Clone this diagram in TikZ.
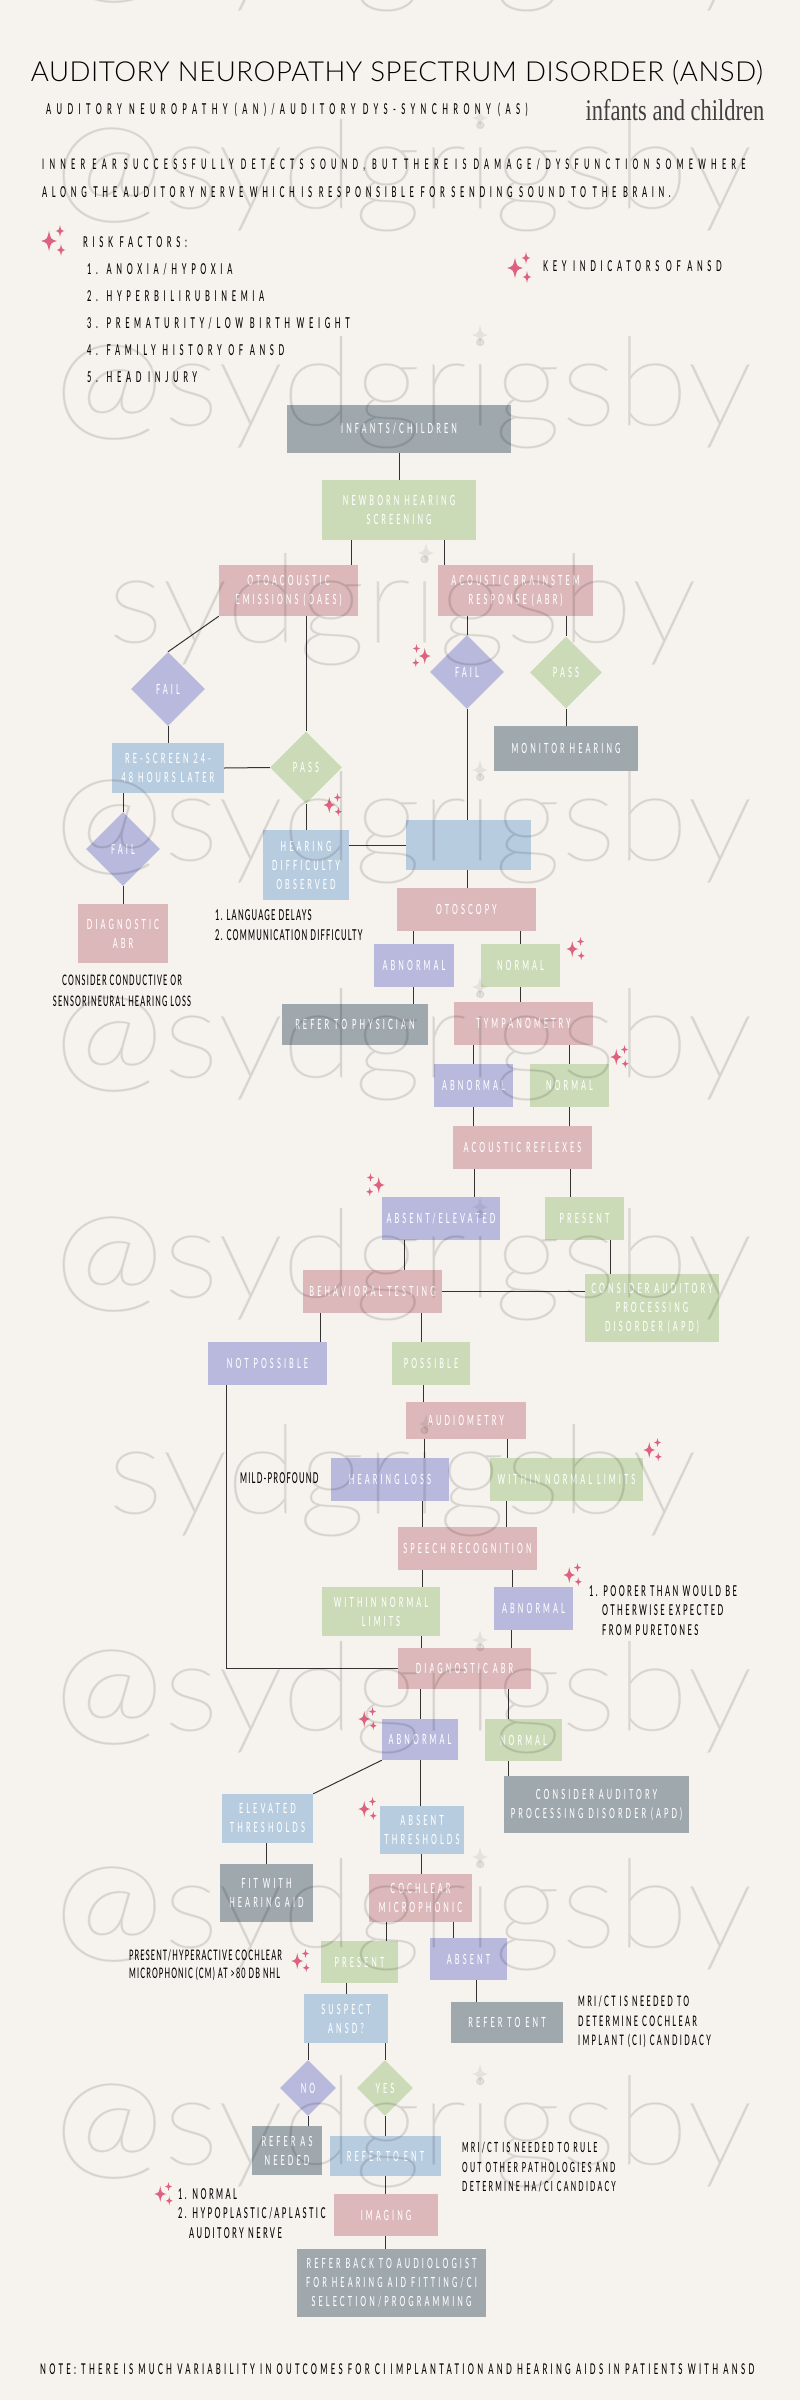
\documentclass[tikz,border=0pt]{standalone}
\usepackage{fontspec}
\usetikzlibrary{shapes.geometric}
\setmainfont{Lato}
\newfontfamily\headfont[LetterSpace=2]{Lato Light}
\newfontfamily\markfont[FakeStretch=1.08,FakeBold=1]{Lato Thin}
\newfontfamily\inkfont[FakeStretch=.75,Style=Italic]{Liberation Serif}
\newfontfamily\broadfont[FakeStretch=.5,LetterSpace=36]{Lato Medium}
\newfontfamily\widefont[FakeStretch=.5,LetterSpace=31]{Lato Medium}
\newfontfamily\boxfont[FakeStretch=.52,LetterSpace=22]{Lato Medium}
\newfontfamily\openfont[FakeStretch=.5,LetterSpace=16]{Lato Medium}
\newfontfamily\notefont[FakeStretch=.5,LetterSpace=8]{Lato Medium}
\definecolor{paper}{HTML}{F6F3EE}
\definecolor{slate}{HTML}{9FA8AD}
\definecolor{sage}{HTML}{CBDBB7}
\definecolor{rose}{HTML}{DDB8BA}
\definecolor{lilac}{HTML}{B8B9DD}
\definecolor{sky}{HTML}{B8CCE0}
\definecolor{spark}{HTML}{DE6280}
\newcommand{\sparkpoint}[4][spark]{%
  \fill[#1,shift={(#2,#3)},scale=#4] (0,-1.3) .. controls (.22,-.22) .. (1,0)
    .. controls (.22,.22) .. (0,1.3) .. controls (-.22,.22) .. (-1,0)
    .. controls (-.22,-.22) .. (0,-1.3) -- cycle;}
\begin{document}
\begin{tikzpicture}[
            x = 1pt, y = -1pt,
            line/.style={line width = 1pt, black!80},
            box/.style 2 args={rectangle, inner sep=0pt, minimum width=#1, minimum height=#2, align=center, text=white, font=\boxfont\fontsize{14}{19}\selectfont},
            diam/.style={diamond, aspect=1, inner sep=0pt, minimum size=#1, align=center, text=white, font=\boxfont\fontsize{14}{19}\selectfont},
            plain/.style={inner sep=0pt, anchor=west, align=left, text=black, font=\widefont\fontsize{15}{27}\selectfont},
            note/.style={inner sep=0pt, anchor=west, align=left, text=black, font=\notefont\fontsize{15}{19.5}\selectfont},
            open/.style={inner sep=0pt, anchor=west, align=left, text=black, font=\openfont\fontsize{15}{19.5}\selectfont},
            brand/.style={inner sep=0pt, anchor=base, text=black, opacity=.065, font=\markfont\fontsize{123}{123}\selectfont},
            sparkle/.pic={
                \sparkpoint{-5}{0}{8}
                \sparkpoint{6}{-10}{4.5}
                \sparkpoint{7}{9}{4.5}
            },
            ]

        \useasboundingbox (0,0) rectangle (800,2400);
        \fill[paper] (0,0) rectangle (800,2400);

        \node[inner sep=0pt, font=\headfont\fontsize{27.6}{28}\selectfont] (title) at (397,73) {AUDITORY NEUROPATHY SPECTRUM DISORDER (ANSD)};
        \node[plain, font=\broadfont\fontsize{15}{27}\selectfont] (subtitle) at (46,110) {AUDITORY NEUROPATHY (AN)/AUDITORY DYS-SYNCHRONY (AS)};
        \node[inner sep=0pt, text=black!75, font=\inkfont\fontsize{30}{30}\selectfont] (who) at (675,110) {infants and children};
        \node[plain, font=\broadfont\fontsize{14.6}{27}\selectfont] (intro) at (42,165) {INNER EAR SUCCESSFULLY DETECTS SOUND, BUT THERE IS DAMAGE/DYSFUNCTION SOMEWHERE};
        \node[plain] (introb) at (42,192) {ALONG THE AUDITORY NERVE WHICH IS RESPONSIBLE FOR SENDING SOUND TO THE BRAIN.};
        \node[plain] (risk) at (83,242) {RISK FACTORS:};
        \node[plain] (risklist) at (87,323) {1. ANOXIA/HYPOXIA\\2. HYPERBILIRUBINEMIA\\3. PREMATURITY/LOW BIRTH WEIGHT\\4. FAMILY HISTORY OF ANSD\\5. HEAD INJURY};
        \node[plain] (key) at (543,266) {KEY INDICATORS OF ANSD};

        \node[box={224}{48}, fill=slate] (infants) at (399,429) {INFANTS/CHILDREN};
        \node[box={154}{60}, fill=sage] (newborn) at (399,510) {NEWBORN HEARING\\SCREENING};
        \node[box={139}{51}, fill=rose] (oae) at (288.5,590.5) {OTOACOUSTIC\\EMISSIONS (OAES)};
        \node[box={155}{51}, fill=rose] (abr) at (515.5,590.5) {ACOUSTIC BRAINSTEM\\RESPONSE (ABR)};
        \node[diam=74, fill=lilac] (faila) at (168,689) {FAIL};
        \node[diam=72, fill=sage] (passa) at (306,767.5) {PASS};
        \node[diam=74, fill=lilac] (failb) at (467,672) {FAIL};
        \node[diam=72, fill=sage] (passb) at (566,672.5) {PASS};
        \node[box={112}{50}, fill=sky] (rescreen) at (168,768) {RE-SCREEN 24-\\48 HOURS LATER};
        \node[box={144}{45}, fill=slate] (monitor) at (566,748.5) {MONITOR HEARING};
        \node[diam=74, fill=lilac] (failc) at (123,849) {FAIL};
        \node[box={86}{70}, fill=sky] (difficulty) at (306,865) {HEARING\\DIFFICULTY\\OBSERVED};
        \node[box={125}{50}, fill=sky] (blank) at (468.5,845) {};
        \node[box={90}{59}, fill=rose] (diagnostic) at (123,933.5) {DIAGNOSTIC\\ABR};
        \node[box={139}{43}, fill=rose] (otoscopy) at (466.5,909.5) {OTOSCOPY};
        \node[box={80}{43}, fill=lilac] (abnormala) at (414,965.5) {ABNORMAL};
        \node[box={79}{43}, fill=sage] (normala) at (520.5,965.5) {NORMAL};
        \node[box={146}{41}, fill=slate] (physician) at (355,1024.5) {REFER TO PHYSICIAN};
        \node[box={139}{43}, fill=rose] (tympano) at (523.5,1023.5) {TYMPANOMETRY};
        \node[box={79}{43}, fill=lilac] (abnormalb) at (473.5,1085.5) {ABNORMAL};
        \node[box={79}{43}, fill=sage] (normalb) at (569.5,1085.5) {NORMAL};
        \node[box={139}{43}, fill=rose] (reflexes) at (522.5,1147.5) {ACOUSTIC REFLEXES};
        \node[box={118}{43}, fill=lilac] (elevated) at (441,1218.5) {ABSENT/ELEVATED};
        \node[box={79}{43}, fill=sage] (presenta) at (584.5,1218.5) {PRESENT};
        \node[box={139}{43}, fill=rose] (behavioral) at (372.5,1291.5) {BEHAVIORAL TESTING};
        \node[box={134}{68}, fill=sage] (apda) at (652,1308) {CONSIDER AUDITORY\\PROCESSING\\DISORDER (APD)};
        \node[box={119}{43}, fill=lilac] (notpossible) at (267.5,1363.5) {NOT POSSIBLE};
        \node[box={78}{43}, fill=sage] (possible) at (431,1363.5) {POSSIBLE};
        \node[box={120}{37}, fill=rose] (audiometry) at (466,1420.5) {AUDIOMETRY};
        \node[box={118}{43}, fill=lilac] (loss) at (390,1479.5) {HEARING LOSS};
        \node[box={153}{43}, fill=sage] (limitsa) at (566.5,1479.5) {WITHIN NORMAL LIMITS};
        \node[box={139}{43}, fill=rose] (speech) at (467.5,1548.5) {SPEECH RECOGNITION};
        \node[box={118}{49}, fill=sage] (limitsb) at (381,1611.5) {WITHIN NORMAL\\LIMITS};
        \node[box={79}{43}, fill=lilac] (abnormalc) at (533.5,1608.5) {ABNORMAL};
        \node[box={133}{41}, fill=rose] (diagabr) at (464.5,1668.5) {DIAGNOSTIC ABR};
        \node[box={76}{41}, fill=lilac] (abnormald) at (420,1739.5) {ABNORMAL};
        \node[box={77}{42}, fill=sage] (normald) at (523.5,1740) {NORMAL};
        \node[box={185}{57}, fill=slate] (apdb) at (596.5,1804.5) {CONSIDER AUDITORY\\PROCESSING DISORDER (APD)};
        \node[box={91}{49}, fill=sky] (raised) at (267.5,1818.5) {ELEVATED\\THRESHOLDS};
        \node[box={84}{48}, fill=sky] (absentthr) at (422,1830) {ABSENT\\THRESHOLDS};
        \node[box={93}{58}, fill=slate] (fitaid) at (266.5,1893) {FIT WITH\\HEARING AID};
        \node[box={103}{48}, fill=rose] (cochlear) at (420.5,1898) {COCHLEAR\\MICROPHONIC};
        \node[box={77}{42}, fill=sage] (presentb) at (359.5,1962) {PRESENT};
        \node[box={77}{42}, fill=lilac] (absentb) at (468.5,1959) {ABSENT};
        \node[box={84}{49}, fill=sky] (suspect) at (346,2018.5) {SUSPECT\\ANSD?};
        \node[box={112}{41}, fill=slate] (enta) at (507,2022.5) {REFER TO ENT};
        \node[diam=56, fill=lilac] (no) at (308,2088) {NO};
        \node[diam=56, fill=sage] (yes) at (385,2088) {YES};
        \node[box={70}{49}, fill=slate] (asneeded) at (287,2150.5) {REFER AS\\NEEDED};
        \node[box={111}{40}, fill=sky] (entb) at (385.5,2156) {REFER TO ENT};
        \node[box={104}{42}, fill=rose] (imaging) at (386,2215) {IMAGING};
        \node[box={189}{68}, fill=slate] (referback) at (391.5,2283) {REFER BACK TO AUDIOLOGIST\\FOR HEARING AID FITTING/CI\\SELECTION/PROGRAMMING};

        \node[note] (delays) at (215,925) {1. LANGUAGE DELAYS\\2. COMMUNICATION DIFFICULTY};
        \node[note, anchor=center, align=center, font=\notefont\fontsize{14.5}{21}\selectfont] (conductive) at (122,990.5) {CONSIDER CONDUCTIVE OR\\SENSORINEURAL HEARING LOSS};
        \node[note] (mild) at (240,1478) {MILD-PROFOUND};
        \node[open] (poorer) at (589,1610.5) {1. POORER THAN WOULD BE\\\hspace*{13pt}OTHERWISE EXPECTED\\\hspace*{13pt}FROM PURETONES};
        \node[note, font=\notefont\fontsize{14.5}{18}\selectfont] (hyper) at (129,1965) {PRESENT/HYPERACTIVE COCHLEAR\\MICROPHONIC (CM) AT >80 DB NHL};
        \node[open, font=\openfont\fontsize{14.5}{19.5}\selectfont] (mria) at (578,2022) {MRI/CT IS NEEDED TO\\DETERMINE COCHLEAR\\IMPLANT (CI) CANDIDACY};
        \node[open, font=\openfont\fontsize{14}{19.5}\selectfont] (mrib) at (462,2167.5) {MRI/CT IS NEEDED TO RULE\\OUT OTHER PATHOLOGIES AND\\DETERMINE HA/CI CANDIDACY};
        \node[open] (nerve) at (178,2213.5) {1. NORMAL\\2. HYPOPLASTIC/APLASTIC\\\hspace*{11pt}AUDITORY NERVE};
        \node[plain, font=\boxfont\fontsize{14.8}{27}\selectfont] (footnote) at (40,2369) {NOTE: THERE IS MUCH VARIABILITY IN OUTCOMES FOR CI IMPLANTATION AND HEARING AIDS IN PATIENTS WITH ANSD};

        \draw[line] (infants.south -| 399,0) -- (newborn.north -| 399,0);
        \draw[line] (newborn.south -| 351,0) -- (oae.north -| 351,0);
        \draw[line] (newborn.south -| 444,0) -- (abr.north -| 444,0);
        \draw[line] (oae.south west) -- (faila.north);
        \draw[line] (oae.south -| 306,0) -- (passa.north);
        \draw[line] (abr.south -| 467,0) -- (failb.north);
        \draw[line] (abr.south -| 566,0) -- (passb.north);
        \draw[line] (failb.south) -- (blank.north -| 467,0);
        \draw[line] (passb.south) -- (monitor.north);
        \draw[line] (faila.south) -- (rescreen.north);
        \draw[line] (rescreen.east) -- (passa.west);
        \draw[line] (rescreen.south -| 123,0) -- (failc.north);
        \draw[line] (failc.south) -- (diagnostic.north);
        \draw[line] (passa.south) -- (difficulty.north);
        \draw[line] (difficulty.east |- blank.west) -- (blank.west);
        \draw[line] (blank.south -| 467,0) -- (otoscopy.north -| 467,0);
        \draw[line] (otoscopy.south -| 413,0) -- (abnormala.north -| 413,0);
        \draw[line] (otoscopy.south -| 520,0) -- (normala.north -| 520,0);
        \draw[line] (abnormala.south -| 413,0) -- (physician.north -| 413,0);
        \draw[line] (normala.south -| 520,0) -- (tympano.north -| 520,0);
        \draw[line] (tympano.south -| 473,0) -- (abnormalb.north -| 473,0);
        \draw[line] (tympano.south -| 569,0) -- (normalb.north -| 569,0);
        \draw[line] (abnormalb.south -| 473,0) -- (reflexes.north -| 473,0);
        \draw[line] (normalb.south -| 569,0) -- (reflexes.north -| 569,0);
        \draw[line] (reflexes.south -| 474,0) -- (elevated.north -| 474,0);
        \draw[line] (reflexes.south -| 570,0) -- (presenta.north -| 570,0);
        \draw[line] (elevated.south -| 404,0) -- (behavioral.north -| 404,0);
        \draw[line] (presenta.south -| 610,0) -- (apda.north -| 610,0);
        \draw[line] (behavioral.east) -- (apda.west |- behavioral.east);
        \draw[line] (behavioral.south -| 320,0) -- (notpossible.north -| 320,0);
        \draw[line] (behavioral.south -| 421,0) -- (possible.north -| 421,0);
        \draw[line] (possible.south -| 423,0) -- (audiometry.north -| 423,0);
        \draw[line] (notpossible.south -| 226.5,0) |- (diagabr.west);
        \draw[line] (audiometry.south -| 424,0) -- (loss.north -| 424,0);
        \draw[line] (audiometry.south -| 507,0) -- (limitsa.north -| 507,0);
        \draw[line] (loss.south -| 422,0) -- (speech.north -| 422,0);
        \draw[line] (limitsa.south -| 506,0) -- (speech.north -| 506,0);
        \draw[line] (speech.south -| 422,0) -- (limitsb.north -| 422,0);
        \draw[line] (speech.south -| 512,0) -- (abnormalc.north -| 512,0);
        \draw[line] (limitsb.south -| 421,0) -- (diagabr.north -| 421,0);
        \draw[line] (abnormalc.south -| 511,0) -- (diagabr.north -| 511,0);
        \draw[line] (diagabr.south -| 420,0) -- (abnormald.north -| 420,0);
        \draw[line] (diagabr.south -| 508,0) -- (normald.north -| 508,0);
        \draw[line] (abnormald.south west) -- (raised.north east);
        \draw[line] (abnormald.south -| 420,0) -- (absentthr.north -| 420,0);
        \draw[line] (normald.south -| 508,0) -- (apdb.north -| 508,0);
        \draw[line] (raised.south -| 266,0) -- (fitaid.north -| 266,0);
        \draw[line] (absentthr.south -| 421,0) -- (cochlear.north -| 421,0);
        \draw[line] (cochlear.south -| 386,0) -- (presentb.north -| 386,0);
        \draw[line] (cochlear.south -| 453,0) -- (absentb.north -| 453,0);
        \draw[line] (presentb.south -| 346,0) -- (suspect.north -| 346,0);
        \draw[line] (absentb.south -| 476,0) -- (enta.north -| 476,0);
        \draw[line] (suspect.south -| 308,0) -- (no.north);
        \draw[line] (suspect.south -| 385,0) -- (yes.north);
        \draw[line] (no.south) -- (asneeded.north -| 308,0);
        \draw[line] (yes.south) -- (entb.north -| 385,0);
        \draw[line] (entb.south -| 385,0) -- (imaging.north -| 385,0);
        \draw[line] (imaging.south -| 385,0) -- (referback.north -| 385,0);

        \pic at (54,241) {sparkle};
        \pic at (520,268) {sparkle};
        \pic[xscale=-.75, yscale=.75] at (421,656) {sparkle};
        \pic[scale=.75] at (333,805) {sparkle};
        \pic[scale=.75] at (576,949) {sparkle};
        \pic[scale=.75] at (620,1057) {sparkle};
        \pic[xscale=-.75, yscale=.75] at (375,1185) {sparkle};
        \pic[scale=.75] at (653,1450) {sparkle};
        \pic[scale=.75] at (573,1575) {sparkle};
        \pic[scale=.75] at (368,1719) {sparkle};
        \pic[scale=.75] at (368,1809) {sparkle};
        \pic[scale=.75] at (301,1961) {sparkle};
        \pic[scale=.75] at (164,2194) {sparkle};

        \begin{scope}
            \clip (0,0) rectangle (800,2400);
            \foreach \row in {-12,208,425,860,1077,1297,1730,1947,2164} {
                \node[brand] (row\row) at (403,\row) {@sydgrigsby};
                \sparkpoint[black,opacity=.065]{480}{\row-90}{8}
            }
            \foreach \row in {642,1513} {
                \node[brand] (row\row) at (402,\row) {sydgrigsby};
                \sparkpoint[black,opacity=.065]{426}{\row-89}{8}
            }
        \end{scope}
    \end{tikzpicture}
\end{document}
